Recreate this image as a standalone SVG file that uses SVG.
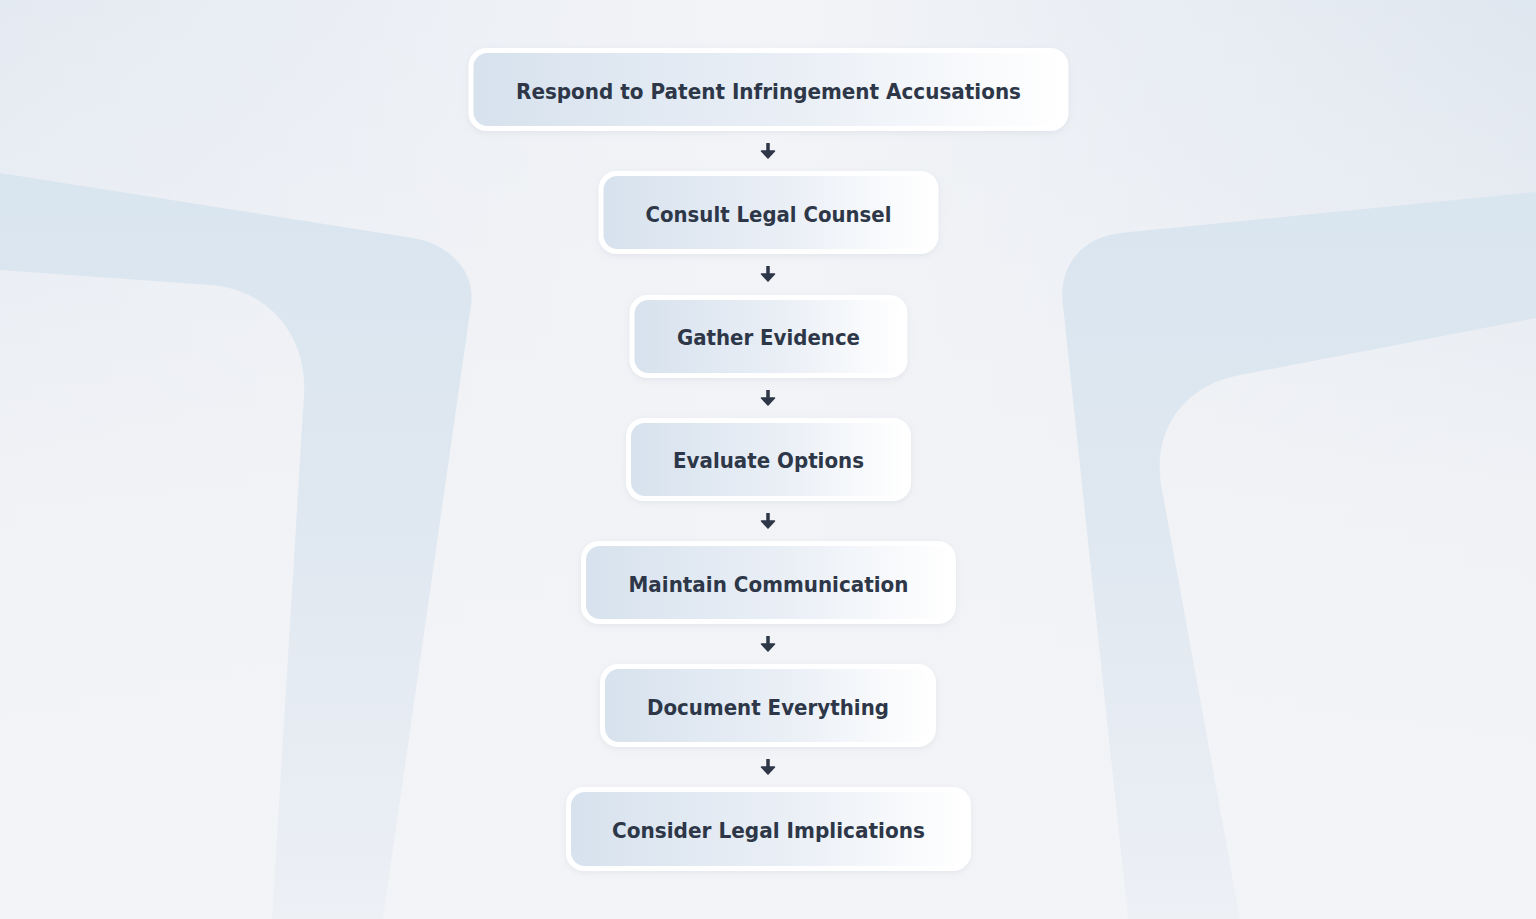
<svg xmlns="http://www.w3.org/2000/svg" width="1536" height="919" viewBox="0 0 1536 919">
  <defs>
    <linearGradient id="bgH" x1="0" y1="0" x2="1" y2="0">
      <stop offset="0" stop-color="#e4eaf2"/>
      <stop offset="0.5" stop-color="#f3f4f7"/>
      <stop offset="1" stop-color="#dfe7f0"/>
    </linearGradient>
    <linearGradient id="bgFade" x1="0" y1="0" x2="0" y2="1">
      <stop offset="0" stop-color="#f2f3f6" stop-opacity="0"/>
      <stop offset="0.55" stop-color="#f2f3f6" stop-opacity="0.9"/>
      <stop offset="1" stop-color="#f3f4f7" stop-opacity="1"/>
    </linearGradient>
    <linearGradient id="band" x1="0" y1="0" x2="0" y2="1">
      <stop offset="0" stop-color="#d9e5ef"/>
      <stop offset="0.5" stop-color="#e0e8f1"/>
      <stop offset="1" stop-color="#edf0f5"/>
    </linearGradient>
    <linearGradient id="nodeFill" x1="0" y1="0" x2="1" y2="0">
      <stop offset="0" stop-color="#d7e2ee"/>
      <stop offset="0.55" stop-color="#eaeff6"/>
      <stop offset="1" stop-color="#ffffff"/>
    </linearGradient>
    <filter id="soft" x="-10%" y="-20%" width="120%" height="150%">
      <feDropShadow dx="0" dy="2" stdDeviation="3" flood-color="#9aa9bd" flood-opacity="0.18"/>
    </filter>
    <style>
      .outer { fill: #ffffff; filter: url(#soft); }
      .inner { fill: url(#nodeFill); }
      .label { font-family: "DejaVu Sans", "Liberation Sans", sans-serif; font-weight: bold; font-size: 22px; fill: #2d3748; text-anchor: middle; }
      .arrow-shaft { stroke: #2d3748; stroke-width: 3.5; fill: none; }
      .arrow-head { fill: #2d3748; stroke: #2d3748; stroke-width: 1.5; stroke-linejoin: round; }
    </style>
  </defs>

  <g id="background">
    <rect x="0" y="0" width="1536" height="919" fill="url(#bgH)"/>
    <rect x="0" y="0" width="1536" height="919" fill="url(#bgFade)"/>
    <path d="M0,173 L413,238 C448,244 476,270 471,305 L383,919 L272,919 L304,395 C308,330 262,288 210,285 L0,270 Z" fill="url(#band)"/>
    <path d="M1536,192 L1120,233 C1080,238 1058,268 1063,305 L1128,919 L1240,919 L1163,495 C1148,430 1185,385 1240,375 L1536,318 Z" fill="url(#band)"/>
  </g>

  <g id="connectors">
    <g id="c1"><line class="arrow-shaft" x1="768" y1="143" x2="768" y2="153"/><path class="arrow-head" d="M761.5,151 L774.5,151 L768,158 Z"/></g>
    <g id="c2"><line class="arrow-shaft" x1="768" y1="266" x2="768" y2="276"/><path class="arrow-head" d="M761.5,274 L774.5,274 L768,281 Z"/></g>
    <g id="c3"><line class="arrow-shaft" x1="768" y1="390" x2="768" y2="400"/><path class="arrow-head" d="M761.5,398 L774.5,398 L768,405 Z"/></g>
    <g id="c4"><line class="arrow-shaft" x1="768" y1="513" x2="768" y2="523"/><path class="arrow-head" d="M761.5,521 L774.5,521 L768,528 Z"/></g>
    <g id="c5"><line class="arrow-shaft" x1="768" y1="636" x2="768" y2="646"/><path class="arrow-head" d="M761.5,644 L774.5,644 L768,651 Z"/></g>
    <g id="c6"><line class="arrow-shaft" x1="768" y1="759" x2="768" y2="769"/><path class="arrow-head" d="M761.5,767 L774.5,767 L768,774 Z"/></g>
  </g>

  <g id="node1">
    <rect class="outer" x="468.5" y="48" width="600" height="83" rx="18"/>
    <rect class="inner" x="473.5" y="53" width="590" height="73" rx="14"/>
    <text class="label" x="768.5" y="99" textLength="505" lengthAdjust="spacingAndGlyphs">Respond to Patent Infringement Accusations</text>
  </g>
  <g id="node2">
    <rect class="outer" x="598.5" y="171" width="340" height="83" rx="18"/>
    <rect class="inner" x="603.5" y="176" width="330" height="73" rx="14"/>
    <text class="label" x="768.5" y="222" textLength="246" lengthAdjust="spacingAndGlyphs">Consult Legal Counsel</text>
  </g>
  <g id="node3">
    <rect class="outer" x="629.5" y="295" width="278" height="83" rx="18"/>
    <rect class="inner" x="634.5" y="300" width="268" height="73" rx="14"/>
    <text class="label" x="768.5" y="345" textLength="183" lengthAdjust="spacingAndGlyphs">Gather Evidence</text>
  </g>
  <g id="node4">
    <rect class="outer" x="626" y="418" width="285" height="83" rx="18"/>
    <rect class="inner" x="631" y="423" width="275" height="73" rx="14"/>
    <text class="label" x="768.5" y="468" textLength="191" lengthAdjust="spacingAndGlyphs">Evaluate Options</text>
  </g>
  <g id="node5">
    <rect class="outer" x="581" y="541" width="375" height="83" rx="18"/>
    <rect class="inner" x="586" y="546" width="365" height="73" rx="14"/>
    <text class="label" x="768.5" y="592" textLength="280" lengthAdjust="spacingAndGlyphs">Maintain Communication</text>
  </g>
  <g id="node6">
    <rect class="outer" x="600" y="664" width="336" height="83" rx="18"/>
    <rect class="inner" x="605" y="669" width="326" height="73" rx="14"/>
    <text class="label" x="768" y="715" textLength="242" lengthAdjust="spacingAndGlyphs">Document Everything</text>
  </g>
  <g id="node7">
    <rect class="outer" x="566" y="787" width="405" height="84" rx="18"/>
    <rect class="inner" x="571" y="792" width="395" height="74" rx="14"/>
    <text class="label" x="768.5" y="838" textLength="313" lengthAdjust="spacingAndGlyphs">Consider Legal Implications</text>
  </g>
</svg>
